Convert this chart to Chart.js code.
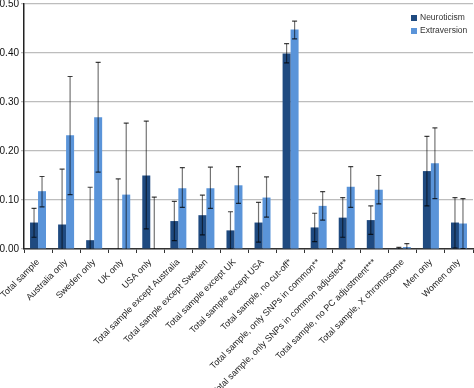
<!DOCTYPE html>
<html lang="en">
<head>
  <meta charset="UTF-8">
  <title>Neuroticism and Extraversion</title>
  <script src="https://cdn.jsdelivr.net/npm/chart.js"></script>
  <style>
    body {
      margin: 0;
      padding: 0;
      background: #fff;
    }
    #chart-container {
      width: 474px;
      height: 388px;
      position: relative;
    }
  </style>
</head>
<body>
  <div id="chart-container">
    <canvas id="heritChart"></canvas>
  </div>

  <script>
    // Categories along the x axis
    const categories = [
      'Total sample', 'Australia only', 'Sweden only', 'UK only', 'USA only',
      'Total sample except Australia', 'Total sample except Sweden',
      'Total sample except UK', 'Total sample except USA',
      'Total sample, no cut-off*', 'Total sample, only SNPs in common**',
      'Total sample, only SNPs in common adjusted**',
      'Total sample, no PC adjustment***', 'Total sample, X chromosome',
      'Men only', 'Women only'
    ];

    // Estimates and error bar ends
    const neuroticism = [0.054, 0.050, 0.018, 0.000, 0.150, 0.057, 0.069, 0.038, 0.054, 0.399, 0.044, 0.064, 0.059, 0.001, 0.159, 0.054];
    const neuroLow    = [0.024, -0.063, -0.090, -0.143, 0.041, 0.017, 0.029, 0.000, 0.014, 0.380, 0.015, 0.024, 0.030, -0.0015, 0.088, 0.002];
    const neuroHigh   = [0.083, 0.163, 0.126, 0.143, 0.261, 0.097, 0.110, 0.076, 0.095, 0.419, 0.073, 0.105, 0.088, 0.0035, 0.230, 0.105];

    const extraversion = [0.118, 0.232, 0.269, 0.111, 0.000, 0.124, 0.124, 0.130, 0.105, 0.448, 0.088, 0.127, 0.121, 0.004, 0.175, 0.052];
    const extraLow     = [0.086, 0.111, 0.157, -0.035, -0.106, 0.085, 0.083, 0.093, 0.065, 0.429, 0.059, 0.085, 0.092, -0.003, 0.103, 0.001];
    const extraHigh    = [0.148, 0.352, 0.381, 0.257, 0.106, 0.166, 0.167, 0.168, 0.147, 0.465, 0.117, 0.168, 0.150, 0.011, 0.247, 0.103];

    const yTicks = [0, 0.1, 0.2, 0.3, 0.4, 0.5];

    // error bars drawn from the low/high arrays through the y scale
    const errorBars = {
      id: 'errorBars',
      afterDatasetsDraw(chart) {
        const ctx = chart.ctx;
        const y = chart.scales.y;
        const area = chart.chartArea;
        const ranges = [[neuroLow, neuroHigh], [extraLow, extraHigh]];
        ctx.save();
        ctx.beginPath();
        ctx.rect(area.left, area.top - 2, area.right - area.left, area.bottom - area.top + 2);
        ctx.clip();
        ranges.forEach((r, di) => {
          const meta = chart.getDatasetMeta(di);
          meta.data.forEach((bar, i) => {
            const yl = y.getPixelForValue(r[0][i]);
            const yh = y.getPixelForValue(r[1][i]);
            ctx.strokeStyle = 'rgba(0,0,0,0.55)';
            ctx.lineWidth = 1.2;
            ctx.beginPath();
            ctx.moveTo(bar.x, yl);
            ctx.lineTo(bar.x, yh);
            ctx.stroke();
            ctx.strokeStyle = 'rgba(0,0,0,0.75)';
            ctx.beginPath();
            ctx.moveTo(bar.x - 2.5, yh);
            ctx.lineTo(bar.x + 2.5, yh);
            ctx.moveTo(bar.x - 2.5, yl);
            ctx.lineTo(bar.x + 2.5, yl);
            ctx.stroke();
          });
        });
        ctx.restore();
      }
    };

    // small legend in the top right corner
    const cornerLegend = {
      id: 'cornerLegend',
      afterDraw(chart) {
        const ctx = chart.ctx;
        ctx.save();
        ctx.font = '8.5px "Liberation Sans", Arial, sans-serif';
        ctx.textBaseline = 'middle';
        chart.data.datasets.forEach((ds, i) => {
          const ly = 18 + i * 13;
          ctx.fillStyle = ds.backgroundColor;
          ctx.fillRect(411, ly - 3, 6, 6);
          ctx.fillStyle = '#333';
          ctx.fillText(ds.label, 420, ly);
        });
        ctx.restore();
      }
    };

    const ctx = document.getElementById('heritChart').getContext('2d');
    const chart = new Chart(ctx, {
      type: 'bar',
      data: {
        labels: categories,
        datasets: [
          {
            label: 'Neuroticism',
            data: neuroticism,
            backgroundColor: '#1f4a80',
            categoryPercentage: 0.57,
            barPercentage: 1.0
          },
          {
            label: 'Extraversion',
            data: extraversion,
            backgroundColor: '#5a94d9',
            categoryPercentage: 0.57,
            barPercentage: 1.0
          }
        ]
      },
      options: {
        responsive: true,
        maintainAspectRatio: false,
        animation: false,
        layout: { padding: { left: 0, right: 1, top: 0, bottom: 0 } },
        plugins: {
          legend: { display: false },
          tooltip: { enabled: false }
        },
        scales: {
          x: {
            grid: {
              offset: true,
              drawOnChartArea: false,
              tickLength: 4,
              color: '#333'
            },
            border: { color: '#333', width: 1.5 },
            ticks: {
              autoSkip: false,
              minRotation: 45,
              maxRotation: 45,
              padding: 4,
              color: '#222',
              font: { family: '"Liberation Sans", Arial, sans-serif', size: 9 }
            },
            afterFit(scale) {
              scale.height = 139;
              scale.paddingLeft = 0;
              scale.paddingRight = 0;
            }
          },
          y: {
            min: 0,
            max: 0.5,
            afterBuildTicks(scale) {
              scale.ticks = yTicks.map(v => ({ value: v }));
            },
            grid: {
              color: '#bdbdbd',
              lineWidth: 1.2,
              tickLength: 3
            },
            border: { color: '#222', width: 1.5 },
            ticks: {
              padding: 2,
              color: '#111',
              font: { family: '"Liberation Sans", Arial, sans-serif', size: 10 },
              callback: v => v.toFixed(2)
            },
            afterFit(scale) {
              scale.width = 24;
              scale.paddingTop = 4;
              scale.paddingBottom = 0;
            }
          }
        }
      },
      plugins: [errorBars, cornerLegend]
    });
  </script>
</body>
</html>
